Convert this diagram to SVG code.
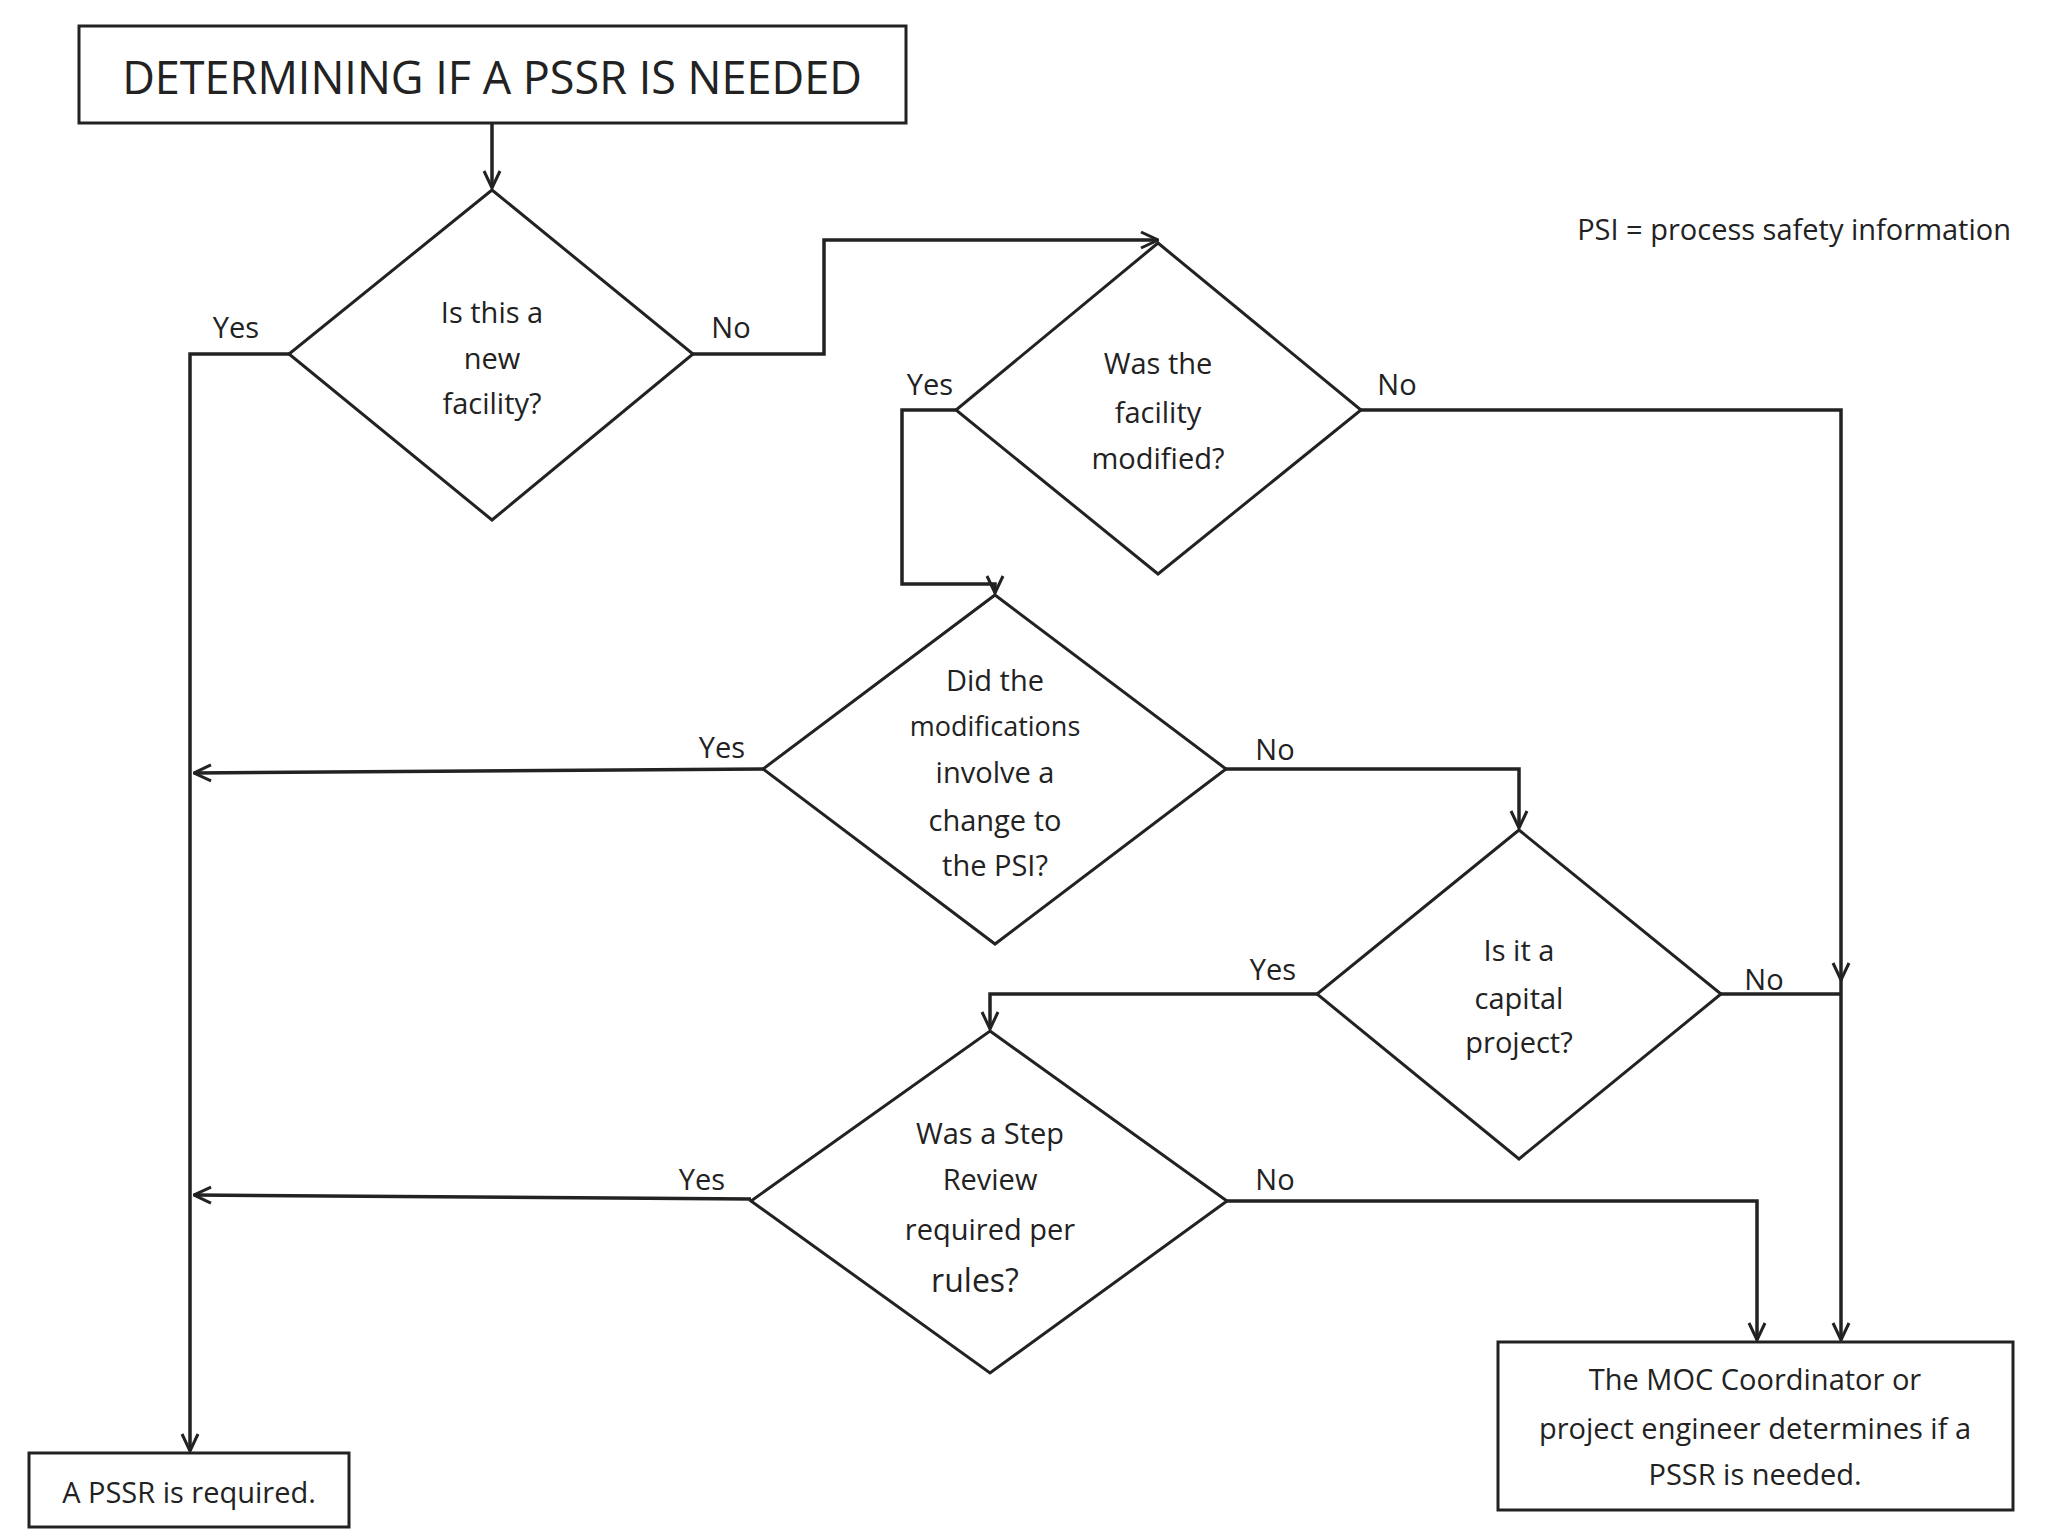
<svg xmlns="http://www.w3.org/2000/svg" width="2048" height="1536" viewBox="0 0 2048 1536">
<style>
.s{fill:#fff;stroke:#222;stroke-width:3}
.c{fill:none;stroke:#222;stroke-width:3.5}
text{font-family:"Open Sans","Liberation Sans",sans-serif;font-size:29px;fill:#222;text-anchor:middle;dominant-baseline:central}
</style>
<defs>
<marker id="a" viewBox="0 0 20 20" refX="19" refY="10" markerWidth="20" markerHeight="20" markerUnits="userSpaceOnUse" orient="auto">
<path d="M2 2 L19 10 L2 18" fill="none" stroke="#222" stroke-width="3"/>
</marker>
</defs>
<rect width="2048" height="1536" fill="#fff"/>
<g id="connectors">
<path class="c" d="M492 123 V188" marker-end="url(#a)"/>
<path class="c" d="M289 354 H190 V1451" marker-end="url(#a)"/>
<path class="c" d="M693 354 H824 V240 H1158" marker-end="url(#a)"/>
<path class="c" d="M1361 410 H1841 V980" marker-end="url(#a)"/>
<path class="c" d="M1841 978 V1340" marker-end="url(#a)"/>
<path class="c" d="M1721 994 H1841"/>
<path class="c" d="M956 410 H902 V584 H995 V593" marker-end="url(#a)"/>
<path class="c" d="M763 769 L194 773" marker-end="url(#a)"/>
<path class="c" d="M1226 769 H1519 V828" marker-end="url(#a)"/>
<path class="c" d="M1317 994 H990 V1029" marker-end="url(#a)"/>
<path class="c" d="M751 1199 L194 1195" marker-end="url(#a)"/>
<path class="c" d="M1227 1201 H1757 V1340" marker-end="url(#a)"/>
</g>
<g id="title"><rect class="s" x="79" y="26" width="827" height="97"/><text x="492" y="76" style="font-size:45px">DETERMINING IF A PSSR IS NEEDED</text></g>
<g id="d1"><polygon class="s" points="492,190 693,354 492,520 289,354"/><text x="492" y="311">Is this a</text><text x="492" y="357">new</text><text x="492" y="402">facility?</text></g>
<g id="d2"><polygon class="s" points="1158,243 1361,410 1158,574 956,410"/><text x="1158" y="362">Was the</text><text x="1158" y="411">facility</text><text x="1158" y="457">modified?</text></g>
<g id="d3"><polygon class="s" points="995,595 1226,769 995,944 763,769"/><text x="995" y="679">Did the</text><text x="995" y="725" style="font-size:27px">modifications</text><text x="995" y="771">involve a</text><text x="995" y="819">change to</text><text x="995" y="864">the PSI?</text></g>
<g id="d4"><polygon class="s" points="1519,830 1721,994 1519,1159 1317,994"/><text x="1519" y="949">Is it a</text><text x="1519" y="997">capital</text><text x="1519" y="1041">project?</text></g>
<g id="d5"><polygon class="s" points="990,1031 1227,1201 990,1373 751,1201"/><text x="990" y="1132">Was a Step</text><text x="990" y="1178">Review</text><text x="990" y="1228">required per</text><text x="975" y="1279" style="font-size:32px">rules?</text></g>
<g id="req"><rect class="s" x="29" y="1453" width="320" height="74"/><text x="189" y="1491">A PSSR is required.</text></g>
<g id="moc"><rect class="s" x="1498" y="1342" width="515" height="168"/><text x="1755" y="1378">The MOC Coordinator or</text><text x="1755" y="1427">project engineer determines if a</text><text x="1755" y="1473">PSSR is needed.</text></g>
<g id="labels">
<text x="236" y="326">Yes</text><text x="731" y="326">No</text>
<text x="930" y="383">Yes</text><text x="1397" y="383">No</text>
<text x="722" y="746">Yes</text><text x="1275" y="748">No</text>
<text x="1273" y="968">Yes</text><text x="1764" y="978">No</text>
<text x="702" y="1178">Yes</text><text x="1275" y="1178">No</text>
<text x="2011" y="228" style="text-anchor:end">PSI = process safety information</text>
</g>
</svg>
